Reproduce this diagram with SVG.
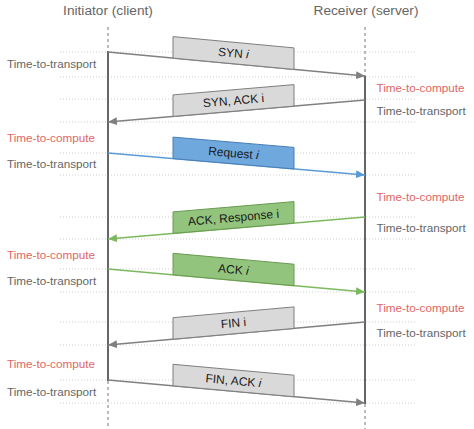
<svg xmlns="http://www.w3.org/2000/svg" width="474" height="429" viewBox="0 0 474 429">
<style>
text{font-family:"Liberation Sans",Arial,sans-serif}
.hdr{font-size:13.7px;fill:#666;text-anchor:middle}
.lbl{font-size:11.7px}
.tr{fill:#666}
.cp{fill:#e06666}
.box text{font-size:12px;fill:#1a1a1a;text-anchor:middle}
.dot{stroke:#cfcfcf;stroke-width:1;stroke-dasharray:1 2;fill:none}
.dash{stroke:#777;stroke-width:1;stroke-dasharray:3 3;fill:none}
.life{stroke:#666;stroke-width:2;fill:none}
.g{fill:#d9d9d9;stroke:#7f7f7f;stroke-width:1}
.b{fill:#6fa8dc;stroke:#4a7fb5;stroke-width:1}
.gr{fill:#93c47d;stroke:#6a9a50;stroke-width:1}
.ag{stroke:#808080;stroke-width:1.4;fill:none;marker-end:url(#mg)}
.ab{stroke:#5b9bd5;stroke-width:1.4;fill:none;marker-end:url(#mb)}
.agr{stroke:#7cb95e;stroke-width:1.4;fill:none;marker-end:url(#mgr)}
</style>
<defs>
<marker id="mg" markerUnits="userSpaceOnUse" markerWidth="10" markerHeight="8" refX="9" refY="4" orient="auto"><path d="M0,0 L9,4 L0,8 z" fill="#808080"/></marker>
<marker id="mb" markerUnits="userSpaceOnUse" markerWidth="10" markerHeight="8" refX="9" refY="4" orient="auto"><path d="M0,0 L9,4 L0,8 z" fill="#5b9bd5"/></marker>
<marker id="mgr" markerUnits="userSpaceOnUse" markerWidth="10" markerHeight="8" refX="9" refY="4" orient="auto"><path d="M0,0 L9,4 L0,8 z" fill="#7cb95e"/></marker>
</defs>
<rect width="474" height="429" fill="#fff"/>
<g id="gridlines">
<path class="dot" d="M60,52H417M60,77H417M60,99H417M60,122H417M60,153H417M60,175H417M60,217H417M60,239H417M60,269H417M60,292H417M60,322H417M60,345H417M60,380H417M60,403H417"/>
</g>
<g id="initiator">
<text class="hdr" x="108" y="15">Initiator (client)</text>
<path class="dash" d="M108,27V51M108,381V429"/>
<path class="life" d="M108,51V381"/>
</g>
<g id="receiver">
<text class="hdr" x="366" y="15">Receiver (server)</text>
<path class="dash" d="M365,27V76M365,404V429"/>
<path class="life" d="M365,76V404"/>
</g>
<g id="timing-labels" class="lbl">
<text class="tr" x="7" y="67.5">Time-to-transport</text>
<text class="cp" x="7" y="141.5">Time-to-compute</text>
<text class="tr" x="7" y="168">Time-to-transport</text>
<text class="cp" x="7" y="259">Time-to-compute</text>
<text class="tr" x="7" y="285">Time-to-transport</text>
<text class="cp" x="7" y="367.5">Time-to-compute</text>
<text class="tr" x="7" y="396">Time-to-transport</text>
<text class="cp" x="376.5" y="91.5">Time-to-compute</text>
<text class="tr" x="376.5" y="114.5">Time-to-transport</text>
<text class="cp" x="376.5" y="201">Time-to-compute</text>
<text class="tr" x="376.5" y="232">Time-to-transport</text>
<text class="cp" x="376.5" y="311.5">Time-to-compute</text>
<text class="tr" x="376.5" y="337">Time-to-transport</text>
</g>
<g id="connectors">
<path class="ag" d="M108,52L365,76"/>
<path class="ag" d="M365,100L108,122"/>
<path class="ab" d="M108,153L365,175"/>
<path class="agr" d="M365,217L108,239"/>
<path class="agr" d="M108,269L365,292"/>
<path class="ag" d="M365,322L108,345"/>
<path class="ag" d="M108,380L365,403"/>
</g>
<g id="msg-syn" class="box">
<polygon class="g" points="173,36.6 294,47.9 294,69.4 173,58.1"/>
<text x="233.5" y="57.2" transform="rotate(5.33 233.5 53)">SYN <tspan font-style="italic">i</tspan></text>
</g>
<g id="msg-synack" class="box">
<polygon class="g" points="173,94.9 294,84.6 294,106.1 173,116.4"/>
<text x="233.5" y="104.7" transform="rotate(-4.89 233.5 100.5)">SYN, ACK i</text>
</g>
<g id="msg-request" class="box">
<polygon class="b" points="173,137.1 294,147.4 294,168.9 173,158.6"/>
<text x="233.5" y="157.2" transform="rotate(4.89 233.5 153)">Request <tspan font-style="italic">i</tspan></text>
</g>
<g id="msg-ackresp" class="box">
<polygon class="gr" points="173,211.9 294,201.6 294,223.1 173,233.4"/>
<text x="233.5" y="221.7" transform="rotate(-4.89 233.5 217.5)">ACK, Response i</text>
</g>
<g id="msg-ack" class="box">
<polygon class="gr" points="173,253.3 294,264.2 294,285.7 173,274.8"/>
<text x="233.5" y="273.7" transform="rotate(5.11 233.5 269.5)">ACK <tspan font-style="italic">i</tspan></text>
</g>
<g id="msg-fin" class="box">
<polygon class="g" points="173,317.7 294,306.9 294,328.4 173,339.2"/>
<text x="233.5" y="327.2" transform="rotate(-5.11 233.5 323)">FIN i</text>
</g>
<g id="msg-finack" class="box">
<polygon class="g" points="173,364.3 294,375.2 294,396.7 173,385.8"/>
<text x="233.5" y="384.7" transform="rotate(5.11 233.5 380.5)">FIN, ACK <tspan font-style="italic">i</tspan></text>
</g>
</svg>
